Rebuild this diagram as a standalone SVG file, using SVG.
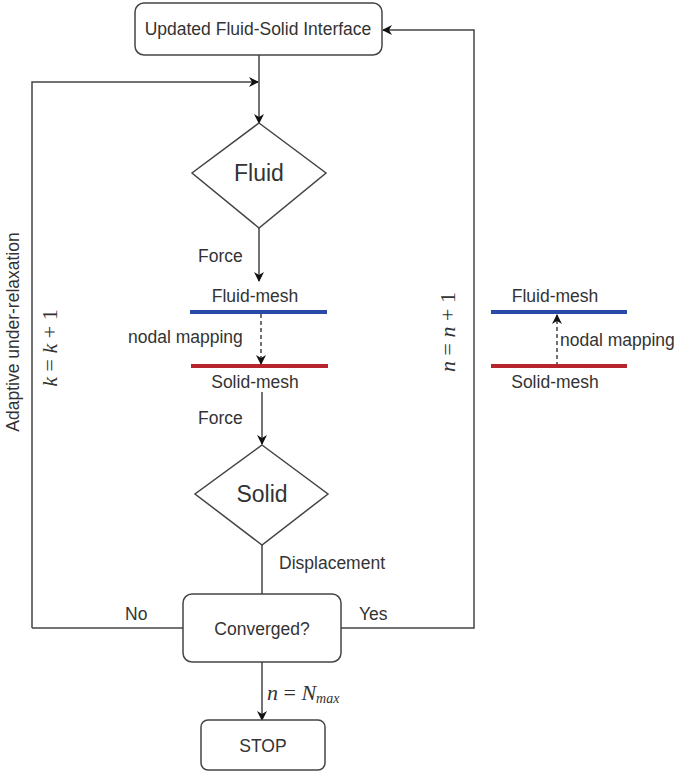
<svg xmlns="http://www.w3.org/2000/svg" width="685" height="774" viewBox="0 0 685 774">
<style>
.n{fill:#fff;stroke:#444;stroke-width:1.5}
.c{fill:none;stroke:#444;stroke-width:1.5}
text{font-family:"Liberation Sans",Arial,sans-serif;fill:#333;font-size:17.5px}
.m{font-family:"Liberation Serif","Times New Roman",serif;font-style:italic;font-size:22px}
.mr{font-family:"Liberation Serif","Times New Roman",serif;font-style:normal}
</style>
<defs><marker id="a" markerWidth="10" markerHeight="10" refX="9" refY="5" orient="auto" markerUnits="userSpaceOnUse"><path d="M0,0 L10,5 L0,10 L3,5 z" fill="#111"/></marker></defs>
<rect width="685" height="774" fill="#fff"/>
<g id="connectors">
<path class="c" d="M259,55 V123" marker-end="url(#a)"/>
<path class="c" d="M32,628 V82 H258" marker-end="url(#a)"/>
<path class="c" d="M259,228 V281" marker-end="url(#a)"/>
<path class="c" d="M261,314 V364" stroke-dasharray="4,3" marker-end="url(#a)"/>
<path class="c" d="M262,392 V444" marker-end="url(#a)"/>
<path class="c" d="M262,545 V594"/>
<path class="c" d="M183,628 H32"/>
<path class="c" d="M341,628 H474 V30 H383" marker-end="url(#a)"/>
<path class="c" d="M262,662 V720" marker-end="url(#a)"/>
<path class="c" d="M557,366 V315" stroke-dasharray="4,3" marker-end="url(#a)"/>
</g>
<g id="interface"><rect class="n" x="135" y="3" width="247" height="52" rx="9"/><text x="258" y="35" text-anchor="middle">Updated Fluid-Solid Interface</text></g>
<g id="fluid"><path class="n" d="M259,123 L326,173 L259,228 L192,173 Z"/><text x="259" y="181" text-anchor="middle" style="font-size:23px">Fluid</text></g>
<g id="fluidmesh"><line x1="190" y1="312" x2="327" y2="312" stroke="#2a4aa8" stroke-width="4"/><text x="255" y="302" text-anchor="middle">Fluid-mesh</text></g>
<g id="solidmesh"><line x1="191" y1="366" x2="328" y2="366" stroke="#b8242c" stroke-width="4"/><text x="255" y="388" text-anchor="middle">Solid-mesh</text></g>
<g id="solid"><path class="n" d="M262,445 L328,494 L262,545 L195,494 Z"/><text x="262" y="502" text-anchor="middle" style="font-size:23px">Solid</text></g>
<g id="converged"><rect class="n" x="183" y="594" width="158" height="68" rx="9"/><text x="262" y="635" text-anchor="middle">Converged?</text></g>
<g id="stop"><rect class="n" x="201" y="720" width="124" height="50" rx="7"/><text x="263" y="752" text-anchor="middle">STOP</text></g>
<g id="right-fluidmesh"><line x1="491" y1="312" x2="627" y2="312" stroke="#2a4aa8" stroke-width="4"/><text x="555" y="302" text-anchor="middle">Fluid-mesh</text></g>
<g id="right-solidmesh"><line x1="491" y1="366" x2="627" y2="366" stroke="#b8242c" stroke-width="4"/><text x="555" y="388" text-anchor="middle">Solid-mesh</text></g>
<g id="labels">
<text x="198" y="262">Force</text>
<text x="128" y="343">nodal mapping</text>
<text x="560" y="346">nodal mapping</text>
<text x="198" y="424">Force</text>
<text x="279" y="569">Displacement</text>
<text x="125" y="620">No</text>
<text x="359" y="620">Yes</text>
<text x="267" y="700" class="m">n <tspan class="mr">=</tspan> N<tspan font-size="14" dy="3">max</tspan></text>
<text transform="translate(19,332) rotate(-90)" text-anchor="middle">Adaptive under-relaxation</text>
<text transform="translate(57,348) rotate(-90)" text-anchor="middle" class="m">k <tspan class="mr">= </tspan>k <tspan class="mr">+ 1</tspan></text>
<text transform="translate(455,332) rotate(-90)" text-anchor="middle" class="m">n <tspan class="mr">= </tspan>n <tspan class="mr">+ 1</tspan></text>
</g>
</svg>
